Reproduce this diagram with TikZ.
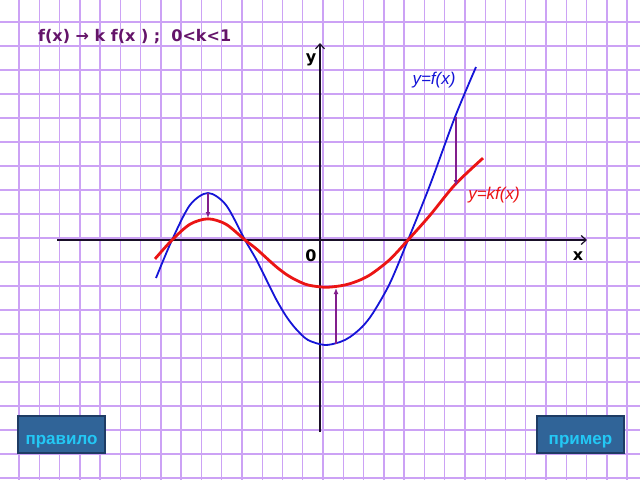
\documentclass[tikz,border=0pt]{standalone}
\usepackage{fontspec}
\setmainfont{DejaVu Sans}
\newfontfamily\labfont{Liberation Sans}
\usetikzlibrary{arrows.meta}
\definecolor{gridc}{RGB}{204,162,245}
\definecolor{titlec}{RGB}{100,20,105}
\definecolor{bluec}{RGB}{20,20,215}
\definecolor{redc}{RGB}{235,20,20}
\definecolor{arrc}{RGB}{130,30,140}
\definecolor{btnfill}{RGB}{48,100,152}
\definecolor{btnedge}{RGB}{30,60,100}
\definecolor{btntext}{RGB}{35,200,245}
\definecolor{axisc}{RGB}{25,15,40}
\tikzset{
  gridline/.style={draw=gridc, line width=1.4pt},
  axisline/.style={draw=axisc, line width=2pt, -{Straight Barb[length=5pt,width=9pt,line width=1.2pt]}},
  bluecurve/.style={draw=bluec, line width=1.8pt},
  redcurve/.style={draw=redc, line width=2.8pt},
  marker/.style={draw=arrc, line width=1.2pt, -{Latex[length=6pt,width=5pt]}},
  axlab/.style={font=\bfseries\fontsize{16}{16}\selectfont, text=black, inner sep=0pt},
  curvelab/.style={font=\labfont\itshape\fontsize{17}{17}\selectfont, inner sep=0pt},
  btn/.style={fill=btnfill, draw=btnedge, line width=1.5pt, minimum width=87pt, minimum height=37pt,
    inner sep=0pt, text height=19pt, text depth=0pt, text=btntext, font=\labfont\bfseries\fontsize{17}{17}\selectfont}
}
\begin{document}
\begin{tikzpicture}[x=1pt,y=-1pt]
\useasboundingbox (0,0) rectangle (640,480);
\fill[white] (0,0) rectangle (640,480);
% grid
\foreach \i in {0,...,30} \draw[gridline] ({19+20.27*\i},0) -- ({19+20.27*\i},480);
\foreach \j in {0,...,19} \draw[gridline] (0,{22+24*\j}) -- (640,{22+24*\j});
% title
\node[anchor=base west, inner sep=0pt, text=titlec, font=\bfseries\fontsize{16}{16}\selectfont] (title) at (38,41) {f(x) → k f(x ) ;\ \ 0<k<1};
% axes
\coordinate (xs) at (57,240);
\coordinate (xe) at (587,240);
\coordinate (ys) at (320,432);
\coordinate (ye) at (320,43);
\draw[axisline] (xs) -- (xe);
\draw[axisline] (ys) -- (ye);
\node[axlab] (ylab) at (311,60) {y};
\node[axlab] (olab) at (311,256) {0};
\node[axlab] (xlab) at (578,256) {x};
% curves
\begin{scope}[shift={(320,240)}]
\draw[bluecurve] plot[smooth, tension=0.5] coordinates {(-164,38) (-148,0) (-130,-35) (-112,-47) (-94,-35) (-75,0) (-64,19) (-54,39) (-44,59) (-34,76) (-24,89) (-12,100) (5,105) (20,102) (30,97) (42,87) (53,73) (70,43) (88,0) (110,-55) (135,-123) (156,-173)};
\end{scope}
\begin{scope}[shift={(320,240)}, yscale=0.45]
\draw[redcurve] plot[smooth, tension=0.5] coordinates {(-165,42) (-148,0) (-130,-35) (-112,-47) (-94,-35) (-75,0) (-64,19) (-54,39) (-44,59) (-34,76) (-24,89) (-12,100) (5,105) (20,102) (30,97) (42,87) (53,73) (70,43) (88,0) (110,-55) (135,-123) (163,-182)};
\end{scope}
% markers
\coordinate (b1) at (208,193);
\coordinate (r1) at (208,218);
\coordinate (b2) at (336,344);
\coordinate (r2) at (336,288);
\coordinate (b3) at (456,117);
\coordinate (r3) at (456,186);
\draw[marker] (b1) -- (r1);
\draw[marker] (b2) -- (r2);
\draw[marker] (b3) -- (r3);
% curve labels
\node[curvelab, text=bluec] (flab) at (434,80) {y=f(x)};
\node[curvelab, text=redc] (kflab) at (494,195) {y=kf(x)};
% buttons
\node[btn] (rule) at (61.5,434.5) {правило};
\node[btn] (example) at (580.5,434.5) {пример};
\end{tikzpicture}
\end{document}
